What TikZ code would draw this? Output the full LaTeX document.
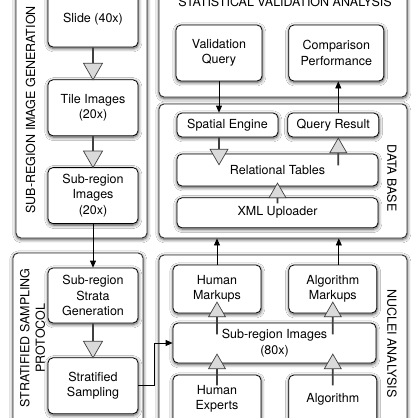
\documentclass[tikz,border=0pt]{standalone}
\usepackage{fontspec}
\setmainfont{TeX Gyre Heros}
\usetikzlibrary{arrows.meta,positioning,shapes.arrows,shadows.blur,calc}
\definecolor{arrowgrey}{HTML}{DADADA}
\definecolor{panelline}{HTML}{2E2E2E}

\begin{document}
\begin{tikzpicture}[x=1pt, y=-1pt, line width=0.8pt, node distance=32pt,
    myarrow/.style={-{Triangle[length=7pt,width=6pt]}}]
    \tikzstyle{myshadow}=[blur shadow={shadow xshift=0.3pt, shadow yshift=-1.4pt, shadow blur radius=3.5pt, shadow blur steps=8, shadow opacity=70}]
    \tikzstyle{box}=[draw=black, fill=white, rounded corners=5pt, align=center, inner sep=1pt, myshadow]
    \tikzstyle{bigbox}=[box, minimum width=90pt, minimum height=56pt]
    \tikzstyle{flatbox}=[box, minimum height=24pt]
    \tikzstyle{panel}=[draw=panelline, line width=0.9pt, fill=white, rounded corners=5pt, myshadow]
    \tikzstyle{panel label}=[inner sep=0pt, align=center]
    \tikzstyle{hollow arrow}=[single arrow, draw=black!75, fill=arrowgrey, line width=0.7pt, inner sep=0pt,
        minimum width=19pt, single arrow head extend=5.5pt, single arrow tip angle=60]
    \fontsize{12.5}{15.5}\selectfont

    \useasboundingbox (0,0) rectangle (418,418);
    \clip (0,0) rectangle (418,418);
    \fill[white] (0,0) rectangle (418,418);

    % Draw the panels
    \node[panel, minimum width=131pt, minimum height=258pt] (genp) at (81.5,109) {};
    \node[panel, minimum width=130pt, minimum height=187pt] (stratp) at (78,346.5) {};
    \node[panel, minimum width=248pt, minimum height=117pt] (statp) at (283,38.5) {};
    \node[panel, minimum width=248pt, minimum height=134pt] (dbp) at (283,171) {};
    \node[panel, minimum width=248pt, minimum height=185pt] (nucp) at (283,347.5) {};

    % Draw the nodes
    \node[bigbox] (slide) at (93,19) {Slide (40x)};
    \node[bigbox, below=32pt of slide] (tile) {Tile Images\\(20x)};
    \node[bigbox, below=31pt of tile] (subimg) {Sub-region\\Images\\(20x)};

    \node[bigbox, minimum height=55pt] (strata) at (93,295.5) {Sub-region\\Strata\\Generation};
    \node[bigbox, below=34pt of strata] (sampling) {Stratified\\Sampling};

    \node[bigbox, minimum width=86pt] (valq) at (219,53) {Validation\\Query};
    \node[bigbox, minimum width=95pt, right=26pt of valq] (comp) {Comparison\\Performance};

    \node[flatbox, minimum width=101pt] (spatial) at (227.5,125) {Spatial Engine};
    \node[flatbox, minimum width=91pt, right=9pt of spatial] (qres) {Query Result};
    \node[box, minimum width=201pt, minimum height=32pt] (reltab) at (277.5,170) {Relational Tables};
    \node[box, minimum width=201pt, minimum height=30pt, below=11pt of reltab] (xml) {XML Uploader};

    \node[box, minimum width=88pt, minimum height=48pt] (hmark) at (217,289) {Human\\Markups};
    \node[box, minimum width=88pt, minimum height=48pt, right=27pt of hmark] (amark) {Algorithm\\Markups};
    \node[box, minimum width=203pt, minimum height=40pt] (sub80) at (274.5,343) {Sub-region Images\\(80x)};
    \node[box, minimum width=88pt, minimum height=48pt] (hexp) at (217,399) {Human\\Experts};
    \node[box, minimum width=88pt, minimum height=48pt, right=27pt of hexp] (algo) {Algorithm};

    % Hollow arrows
    \node[hollow arrow, rotate=-90, minimum height=32pt, anchor=tail] at (slide.south) {};
    \node[hollow arrow, rotate=-90, minimum height=31pt, anchor=tail] at (tile.south) {};
    \node[hollow arrow, rotate=-90, minimum height=34pt, anchor=tail] at (strata.south) {};

    \node[hollow arrow, rotate=-90, minimum height=27pt, anchor=tail, minimum width=18pt] at (spatial.south -| valq.south) {};
    \node[hollow arrow, rotate=90, minimum height=27pt, anchor=tip, minimum width=17pt] at ([xshift=5pt]qres.south) {};
    \node[hollow arrow, rotate=90, minimum height=20pt, anchor=tip, minimum width=17pt] at ($(reltab.south)+(0,-4)$) {};

    \foreach \name in {hmark, amark}
        \node[hollow arrow, rotate=90, minimum height=32pt, anchor=tip, minimum width=17pt] at ($(\name.south)+(0,-12)$) {};
    \foreach \name in {hexp, algo}
        \node[hollow arrow, rotate=90, minimum height=31pt, anchor=tip, minimum width=17pt] at ($(\name.north |- sub80.south)+(0,-10)$) {};

    % Connect the blocks
    \draw[myarrow] (subimg) -- (strata);
    \draw[myarrow] (sampling.east) -- ++(16,0) |- (sub80.west);
    \draw[myarrow] (valq.south) -- (valq.south |- spatial.north);
    \draw[myarrow] ([xshift=5pt]qres.north) -- ([xshift=5pt]qres.north |- comp.south);
    \draw[myarrow] (hmark.north) -- (hmark.north |- dbp.south);
    \draw[myarrow] ([xshift=6pt]amark.north) -- ([xshift=6pt]amark.north |- dbp.south);

    % Annotate the panels
    \node[panel label, rotate=90, anchor=west] (genlabel) at (30.5,214) {SUB-REGION IMAGE GENERATION};
    \node[panel label, rotate=90] (stratlabel) at (32.5,338) {STRATIFIED SAMPLING\\PROTOCOL};
    \node[panel label] (statlabel) at (285,2) {STATISTICAL VALIDATION ANALYSIS};
    \node[panel label, rotate=-90] (dblabel) at (392,178) {DATA BASE};
    \node[panel label, rotate=-90] (nuclabel) at (392,343.5) {NUCLEI ANALYSIS};
\end{tikzpicture}
\end{document}
